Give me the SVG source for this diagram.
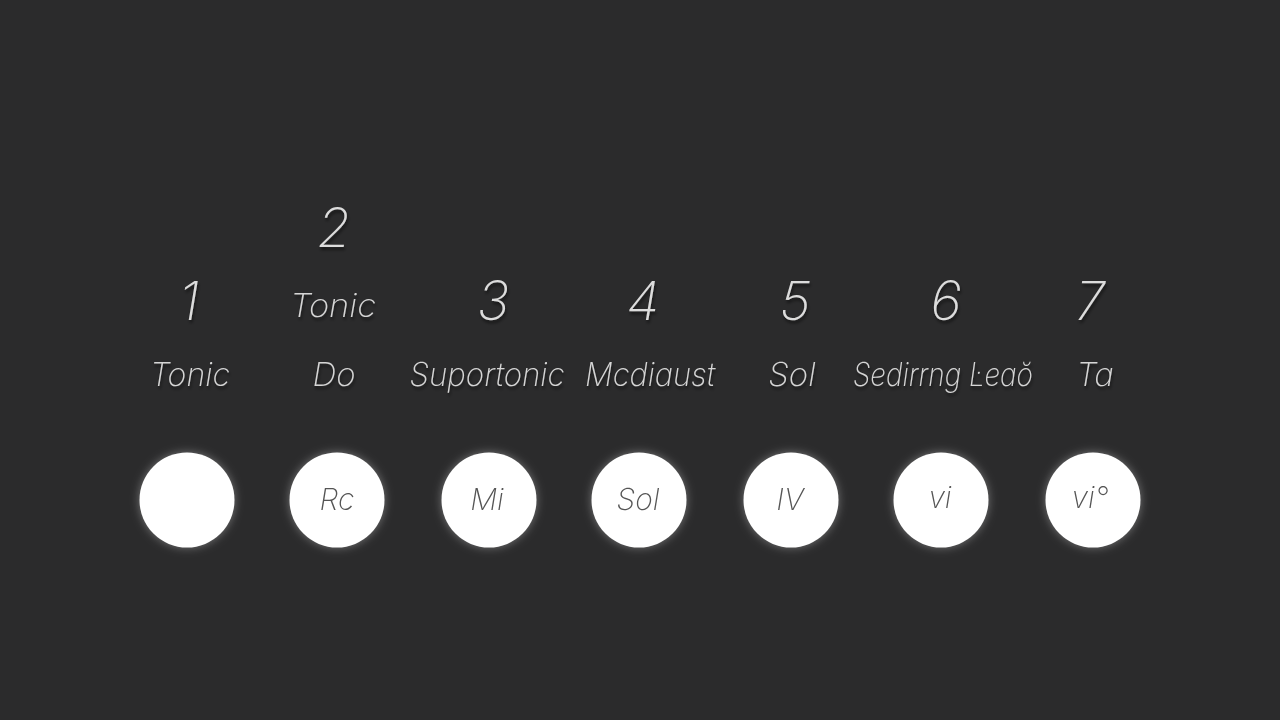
<svg xmlns="http://www.w3.org/2000/svg" width="1280" height="720" viewBox="0 0 1280 720">
<defs>
<filter id="glow" x="-50%" y="-50%" width="200%" height="200%">
<feGaussianBlur in="SourceAlpha" stdDeviation="5" result="b"/>
<feFlood flood-color="#ffffff" flood-opacity="0.35"/>
<feComposite in2="b" operator="in" result="g"/>
<feMerge><feMergeNode in="g"/><feMergeNode in="SourceGraphic"/></feMerge>
</filter>
<filter id="shadow" x="-20%" y="-20%" width="140%" height="160%">
<feGaussianBlur in="SourceAlpha" stdDeviation="1.5" result="b"/>
<feOffset dx="1" dy="3" in="b" result="o"/>
<feFlood flood-color="#000" flood-opacity="0.5"/>
<feComposite in2="o" operator="in" result="s"/>
<feMerge><feMergeNode in="s"/><feMergeNode in="SourceGraphic"/></feMerge>
</filter>
</defs>
<style>
.bg{fill:#2b2b2c}
.num{font-family:"Inter","DejaVu Sans",sans-serif;font-weight:200;font-style:italic;font-size:54px;fill:#dcdcdc;text-anchor:middle}
.lbl{font-family:"Inter","DejaVu Sans",sans-serif;font-weight:200;font-style:italic;font-size:33px;fill:#d6d6d6;text-anchor:middle}
.dot{fill:#ffffff}
.in{font-family:"Inter","DejaVu Sans",sans-serif;font-weight:200;font-style:italic;font-size:30px;fill:#555555;text-anchor:middle}
</style>
<rect class="bg" x="0" y="0" width="1280" height="720"/>
<g id="labels" filter="url(#shadow)">
<text class="num" x="334" y="247">2</text>
<text class="num" x="189" y="320">1</text>
<text class="lbl" x="333" y="317" textLength="86" lengthAdjust="spacingAndGlyphs">Tonic</text>
<text class="num" x="493" y="320">3</text>
<text class="num" x="643" y="320">4</text>
<text class="num" x="795" y="320">5</text>
<text class="num" x="946" y="320">6</text>
<text class="num" x="1090" y="320">7</text>
<text class="lbl" x="190" y="386" textLength="80" lengthAdjust="spacingAndGlyphs">Tonic</text>
<text class="lbl" x="334" y="386">Do</text>
<text class="lbl" x="487" y="386" textLength="155" lengthAdjust="spacingAndGlyphs">Suportonic</text>
<text class="lbl" x="650" y="386" textLength="130" lengthAdjust="spacingAndGlyphs">Mcdiaust</text>
<text class="lbl" x="792" y="386">Sol</text>
<text class="lbl" x="943" y="386" textLength="180" lengthAdjust="spacingAndGlyphs">Sedirrng Ŀeaŏ</text>
<text class="lbl" x="1095" y="386">Ta</text>
</g>
<g id="connectors"/>
<g id="n1" filter="url(#glow)"><circle class="dot" cx="187" cy="500" r="47.5"/></g>
<g id="n2" filter="url(#glow)"><circle class="dot" cx="337" cy="500" r="47.5"/><text class="in" x="337" y="510">Rc</text></g>
<g id="n3" filter="url(#glow)"><circle class="dot" cx="489" cy="500" r="47.5"/><text class="in" x="487" y="510">Mi</text></g>
<g id="n4" filter="url(#glow)"><circle class="dot" cx="639" cy="500" r="47.5"/><text class="in" x="638" y="510">Sol</text></g>
<g id="n5" filter="url(#glow)"><circle class="dot" cx="791" cy="500" r="47.5"/><text class="in" x="790" y="510">IV</text></g>
<g id="n6" filter="url(#glow)"><circle class="dot" cx="941" cy="500" r="47.5"/><text class="in" x="940" y="508">vi</text></g>
<g id="n7" filter="url(#glow)"><circle class="dot" cx="1093" cy="500" r="47.5"/><text class="in" x="1090" y="508">vi°</text></g>
</svg>
